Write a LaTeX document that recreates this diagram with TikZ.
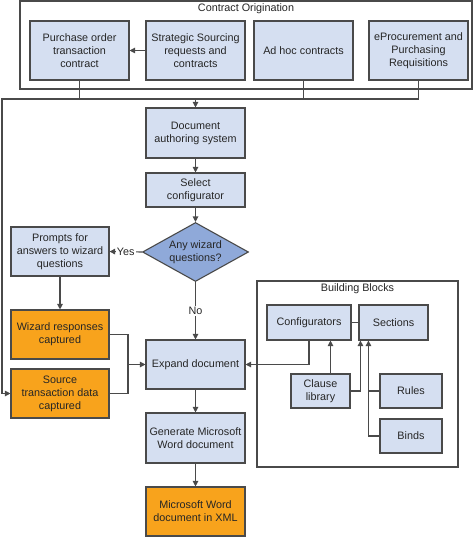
\documentclass[tikz,border=0pt]{standalone}
\usepackage{fontspec}
\setmainfont{Liberation Sans}
\usetikzlibrary{arrows.meta,shapes.geometric}
\definecolor{boxblue}{HTML}{D5DFF1}
\definecolor{diablue}{HTML}{8FA9D9}
\definecolor{boxorange}{HTML}{F8A31C}
\definecolor{edge}{HTML}{4A4A4A}
\definecolor{txt}{HTML}{262626}
\tikzset{
  every node/.style={font=\fontsize{10.8pt}{13pt}\selectfont, text=txt},
  bluebox/.style={draw=edge, line width=1.1pt, fill=boxblue, align=center, inner sep=1pt},
  orangebox/.style={draw=edge, line width=1.1pt, fill=boxorange, align=center, inner sep=1pt},
  frame/.style={draw=edge, line width=1.1pt, fill=white},
  conn/.style={draw=edge, line width=1.1pt},
  arr/.style={conn, -{Triangle[length=5.5pt,width=5.5pt]}},
  lbl/.style={fill=white, inner sep=1pt},
}
\begin{document}
\begin{tikzpicture}[x=1pt,y=-1pt]
\useasboundingbox[fill=white] (0,0) rectangle (474,537);

% Contract Origination frame
\node[frame, minimum width=452pt, minimum height=88pt, inner sep=0pt] (co) at (246,45) {};
\node (cot) at (246,9) {Contract Origination};
\node[bluebox, minimum width=99pt, minimum height=59pt] (po) at (79.5,50.5) {Purchase order\\transaction\\contract};
\node[bluebox, minimum width=99pt, minimum height=59pt] (ss) at (195.5,50.5) {Strategic Sourcing\\requests and\\contracts};
\node[bluebox, minimum width=99pt, minimum height=59pt] (ah) at (303.5,50.5) {Ad hoc contracts};
\node[bluebox, minimum width=99pt, minimum height=59pt] (ep) at (418.5,50.5) {eProcurement and\\Purchasing\\Requisitions};

% Main flow
\node[bluebox, minimum width=99pt, minimum height=50pt] (das) at (195.5,133) {Document\\authoring system};
\node[bluebox, minimum width=99pt, minimum height=34pt] (sc) at (195.5,190) {Select\\configurator};
\node[diamond, draw=edge, line width=1.1pt, fill=diablue, minimum width=106pt, minimum height=59pt, inner sep=0pt,
      label={[align=center]center:Any wizard\\questions?}] (dia) at (195.5,252) {};
\node[bluebox, minimum width=98pt, minimum height=49pt] (pr) at (60,251.5) {Prompts for\\answers to wizard\\questions};
\node[orangebox, minimum width=98pt, minimum height=49pt] (wr) at (60,334.5) {Wizard responses\\captured};
\node[orangebox, minimum width=98pt, minimum height=49pt] (st) at (60,393.5) {Source\\transaction data\\captured};
\node[bluebox, minimum width=99pt, minimum height=49pt] (ex) at (195.5,364.5) {Expand document};
\node[bluebox, minimum width=99pt, minimum height=50pt] (gen) at (195.5,438) {Generate Microsoft\\Word document};
\node[orangebox, minimum width=99pt, minimum height=49pt] (xml) at (195.5,511.5) {Microsoft Word\\document in XML};

% Building Blocks
\node[frame, minimum width=201pt, minimum height=186pt, inner sep=0pt] (bb) at (357.5,374) {};
\node (bbt) at (357.5,289) {Building Blocks};
\node[bluebox, minimum width=84pt, minimum height=35pt] (cf) at (309,322.5) {Configurators};
\node[bluebox, minimum width=69pt, minimum height=35pt] (sec) at (393.5,322.5) {Sections};
\node[bluebox, minimum width=59pt, minimum height=34pt] (cl) at (320.5,391) {Clause\\library};
\node[bluebox, minimum width=62pt, minimum height=34pt] (ru) at (411,391) {Rules};
\node[bluebox, minimum width=62pt, minimum height=34pt] (bi) at (411,436) {Binds};

% coordinates
\coordinate (L1) at (2,99);
\coordinate (J) at (128,364.5);

% Contract origination connectors
\draw[arr] (ss.west) -- (po.east);
\draw[arr] (ep.south) |- (L1) |- (st.west);
\draw[conn] (po.south) -- (po.south |- L1);
\draw[conn] (ah.south) -- (ah.south |- L1);
\draw[arr] (das.north |- L1) -- (das.north);

% main flow connectors
\draw[arr] (das.south) -- (sc.north);
\draw[arr] (sc.south) -- (dia.north);
\draw[arr] (dia.west) -- node[lbl] {Yes} (pr.east);
\draw[arr] (dia.south) -- node[lbl] {No} (ex.north);
\draw[arr] (pr.south) -- (wr.north);
\draw[conn] (wr.east) -| (J);
\draw[conn] (st.east) -| (J);
\draw[arr] (J) -- (ex.west);
\draw[arr] (ex.south) -- (gen.north);
\draw[arr] (gen.south) -- (xml.north);

% building blocks connectors
\draw[arr] (cf.south) |- (ex.east);
\draw[conn] (cf.east) -- (sec.west);
\draw[arr] ([xshift=10pt]cl.north) -- ([xshift=10pt]cl.north |- cf.south);
\draw[arr] (cl.east) -| ([xshift=2pt]sec.south west);
\draw[arr] (ru.west) -| ([xshift=10pt]sec.south west);
\draw[conn] (bi.west) -| ([xshift=10pt]sec.south west |- ru.west);
\end{tikzpicture}
\end{document}
